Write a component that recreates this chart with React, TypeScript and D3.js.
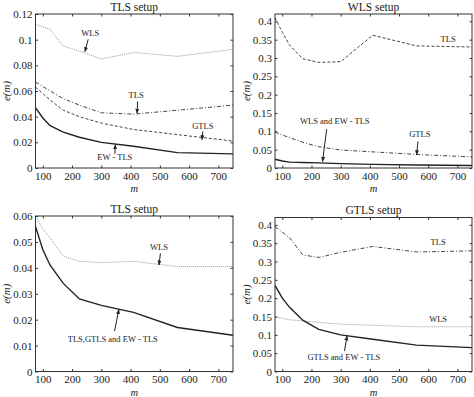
import { useEffect, useRef } from "react";
import * as d3 from "d3";

// sample sizes m (shared by every curve)
const mValues = [75, 100, 125, 170, 225, 300, 410, 560, 750];
const xTicks = [100, 200, 300, 400, 500, 600, 700];

// TLS setup (top-left)
const p1WLS = [0.112, 0.11, 0.108, 0.095, 0.091, 0.085, 0.09, 0.087, 0.0925];
const p1TLS = [0.067, 0.0635, 0.06, 0.054, 0.049, 0.043, 0.042, 0.045, 0.049];
const p1GTLS = [0.063, 0.058, 0.053, 0.045, 0.04, 0.035, 0.03, 0.026, 0.021];
const p1EW = [0.047, 0.039, 0.033, 0.028, 0.024, 0.02, 0.017, 0.012, 0.011];
const p1YTicks = [0, 0.02, 0.04, 0.06, 0.08, 0.1, 0.12];

// WLS setup (top-right)
const p2TLS = [0.41, 0.37, 0.335, 0.298, 0.288, 0.29, 0.362, 0.333, 0.33];
const p2GTLS = [0.098, 0.09, 0.083, 0.07, 0.058, 0.049, 0.044, 0.037, 0.03];
const p2WLSEW = [0.024, 0.019, 0.016, 0.015, 0.014, 0.012, 0.01, 0.008, 0.007];
const bigYTicks = [0, 0.05, 0.1, 0.15, 0.2, 0.25, 0.3, 0.35, 0.4];

// TLS setup (bottom-left)
const p3WLS = [0.06, 0.055, 0.0515, 0.0445, 0.0425, 0.042, 0.0425, 0.0405, 0.0405];
const p3Rest = [0.056, 0.047, 0.041, 0.034, 0.028, 0.0255, 0.0228, 0.017, 0.014];
const p3YTicks = [0, 0.01, 0.02, 0.03, 0.04, 0.05, 0.06];

// GTLS setup (bottom-right)
const p4TLS = [0.395, 0.38, 0.365, 0.318, 0.311, 0.325, 0.341, 0.326, 0.329];
const p4WLS = [0.15, 0.145, 0.141, 0.138, 0.134, 0.129, 0.126, 0.122, 0.122];
const p4GTLSEW = [0.235, 0.2, 0.175, 0.14, 0.115, 0.1, 0.088, 0.072, 0.065];

const SOLID = { stroke: "#222", width: 1.4, dash: null };
const DOTTED = { stroke: "#999", width: 1, dash: "1,1" };
const DASHED = { stroke: "#444", width: 1, dash: "3,2" };
const DASHDOT = { stroke: "#444", width: 1, dash: "4,2,1,2" };

const panels = [
  {
    title: "TLS setup", box: [35.5, 233, 14, 168], yMax: 0.12, yTicks: p1YTicks,
    series: [
      { values: p1WLS, style: DOTTED },
      { values: p1TLS, style: DASHDOT },
      { values: p1GTLS, style: DASHED },
      { values: p1EW, style: SOLID },
    ],
    notes: [
      { text: "WLS", at: [262, 0.104], arrow: [[255, 0.1003], [244, 0.0907]] },
      { text: "TLS", at: [419, 0.0557], arrow: [[424, 0.0518], [422, 0.0428]] },
      { text: "GTLS", at: [647, 0.0319], arrow: [[647, 0.0285], [644, 0.022]] },
      { text: "EW - TLS", at: [346, 0.0078], arrow: [[346, 0.0111], [348, 0.0181]] },
    ],
  },
  {
    title: "WLS setup", box: [275, 472, 14, 168], yMax: 0.42, yTicks: bigYTicks,
    series: [
      { values: p2TLS, style: DASHED },
      { values: p2GTLS, style: DASHDOT },
      { values: p2WLSEW, style: SOLID },
    ],
    notes: [
      { text: "TLS", at: [668, 0.35] },
      { text: "WLS and EW - TLS", at: [280, 0.125], arrow: [[252, 0.106], [238, 0.018]] },
      { text: "GTLS", at: [571, 0.0905], arrow: [[565, 0.0724], [560, 0.036]] },
    ],
  },
  {
    title: "TLS setup", box: [35.5, 233, 216, 371.5], yMax: 0.06, yTicks: p3YTicks,
    series: [
      { values: p3WLS, style: DOTTED },
      { values: p3Rest, style: SOLID },
    ],
    notes: [
      { text: "WLS", at: [497, 0.0477], arrow: [[502, 0.0456], [497, 0.0411]] },
      { text: "TLS,GTLS and EW - TLS", at: [339, 0.0121], arrow: [[345, 0.0156], [360, 0.0239]] },
    ],
  },
  {
    title: "GTLS setup", box: [275, 472, 217.5, 371.5], yMax: 0.42, yTicks: bigYTicks,
    series: [
      { values: p4TLS, style: DASHDOT },
      { values: p4WLS, style: DOTTED },
      { values: p4GTLSEW, style: SOLID },
    ],
    notes: [
      { text: "TLS", at: [634, 0.35] },
      { text: "WLS", at: [634, 0.139] },
      { text: "GTLS and EW - TLS", at: [311, 0.036], arrow: [[313, 0.056], [322, 0.097]] },
    ],
  },
];

const FONT = "Liberation Serif, Times New Roman, DejaVu Serif, serif";
const fmt = d3.format("~g");

export default function App() {
  const ref = useRef<SVGSVGElement>(null);

  useEffect(() => {
    const svg = d3.select(ref.current);
    svg.selectAll("*").remove();

    // arrow head
    svg.append("defs").append("marker")
      .attr("id", "arrowhead")
      .attr("viewBox", "0 0 10 10")
      .attr("refX", 9).attr("refY", 5)
      .attr("markerWidth", 5).attr("markerHeight", 5)
      .attr("orient", "auto")
      .append("path")
      .attr("d", "M0,1 L10,5 L0,9 Z")
      .attr("fill", "#222");

    panels.forEach((p) => {
      const [x0, x1, y0, y1] = p.box;
      const x = d3.scaleLinear().domain([75, 750]).range([x0, x1]);
      const y = d3.scaleLinear().domain([0, p.yMax]).range([y1, y0]);
      const g = svg.append("g");

      // bottom / top axes with inward ticks
      const bottom = g.append("g").attr("transform", `translate(0,${y1})`)
        .call(d3.axisBottom(x).tickValues(xTicks).tickSizeInner(-2.5).tickSizeOuter(0).tickPadding(4).tickFormat(fmt));
      const top = g.append("g").attr("transform", `translate(0,${y0})`)
        .call(d3.axisTop(x).tickValues(xTicks).tickSizeInner(-2.5).tickSizeOuter(0).tickFormat(() => ""));
      const left = g.append("g").attr("transform", `translate(${x0},0)`)
        .call(d3.axisLeft(y).tickValues(p.yTicks).tickSizeInner(-2.5).tickSizeOuter(0).tickPadding(3).tickFormat(fmt));
      const right = g.append("g").attr("transform", `translate(${x1},0)`)
        .call(d3.axisRight(y).tickValues(p.yTicks).tickSizeInner(-2.5).tickSizeOuter(0).tickFormat(() => ""));
      [bottom, top, left, right].forEach((a) => {
        a.attr("font-family", FONT).attr("font-size", 11);
        a.select(".domain").remove();
        a.selectAll("line").attr("stroke", "#333");
        a.selectAll("text").attr("fill", "#222");
      });

      // curves
      p.series.forEach((s) => {
        const line = d3.line<number>().x((_, i) => x(mValues[i])).y((v) => y(v));
        g.append("path")
          .attr("d", line(s.values))
          .attr("fill", "none")
          .attr("stroke", s.style.stroke)
          .attr("stroke-width", s.style.width)
          .attr("stroke-dasharray", s.style.dash);
      });

      // box
      g.append("rect")
        .attr("x", x0).attr("y", y0)
        .attr("width", x1 - x0).attr("height", y1 - y0)
        .attr("fill", "none").attr("stroke", "#333").attr("stroke-width", 1);

      // annotations
      p.notes.forEach((n) => {
        g.append("text")
          .attr("x", x(n.at[0])).attr("y", y(n.at[1]))
          .attr("text-anchor", "middle").attr("dominant-baseline", "middle")
          .attr("font-family", FONT).attr("font-size", 8.5).attr("fill", "#222")
          .text(n.text);
        if (n.arrow) {
          g.append("line")
            .attr("x1", x(n.arrow[0][0])).attr("y1", y(n.arrow[0][1]))
            .attr("x2", x(n.arrow[1][0])).attr("y2", y(n.arrow[1][1]))
            .attr("stroke", "#222").attr("stroke-width", 1)
            .attr("marker-end", "url(#arrowhead)");
        }
      });

      // titles and axis labels
      g.append("text")
        .attr("x", (x0 + x1) / 2).attr("y", y0 - 3.5)
        .attr("text-anchor", "middle")
        .attr("font-family", FONT).attr("font-size", 11.5).attr("fill", "#222")
        .text(p.title);
      g.append("text")
        .attr("x", (x0 + x1) / 2).attr("y", y1 + 24)
        .attr("text-anchor", "middle")
        .attr("font-family", FONT).attr("font-size", 10.5).attr("font-style", "italic").attr("fill", "#222")
        .text("m");
      g.append("text")
        .attr("transform", `translate(${x0 - 28},${(y0 + y1) / 2}) rotate(-90)`)
        .attr("text-anchor", "middle").attr("dominant-baseline", "middle")
        .attr("font-family", FONT).attr("font-size", 11).attr("font-style", "italic").attr("fill", "#222")
        .text("e(m)");
    });
  }, []);

  return (
    <div style={{ position: "fixed", left: 0, top: 0, background: "#fff" }}>
      <svg ref={ref} width={474} height={397} style={{ display: "block" }} />
    </div>
  );
}
